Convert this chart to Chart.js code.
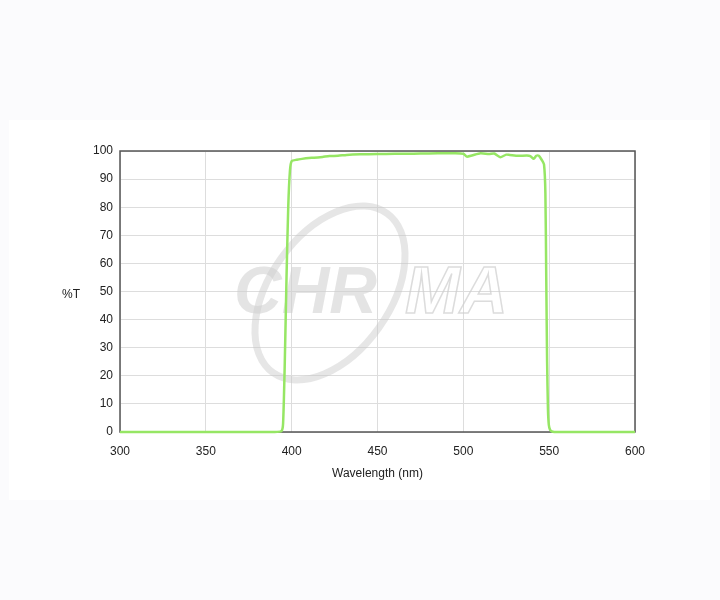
<!DOCTYPE html>
<html>
<head>
<meta charset="utf-8">
<script src="https://cdn.jsdelivr.net/npm/chart.js@4"></script>
<style>
  body { margin: 0; background: #fbfbfd; }
  canvas { display: block; }
</style>
</head>
<body>
<canvas id="chart" width="720" height="600"></canvas>
<script>
// wavelength (nm) and transmission (%T)
const wavelengths = [300, 350, 390, 394, 395, 396, 397, 398, 399, 400, 403, 406, 410, 413, 418, 422, 427, 432,
  440, 450, 460, 467, 475, 485, 495, 500, 502, 505, 510, 515, 518, 521.5, 525, 527, 532, 537, 539, 541,
  542.5, 544, 545.7, 547, 547.8, 548.3, 548.8, 549.3, 549.8, 550.5, 551.5, 553, 560, 600];
const transmission = [0, 0, 0, 0.3, 3, 25, 55, 80, 93, 96.4, 96.9, 97.2, 97.5, 97.6, 97.9, 98.2, 98.3, 98.6,
  98.8, 98.9, 99.0, 99.0, 99.1, 99.2, 99.2, 99.0, 98.0, 98.4, 99.2, 98.9, 99.1, 97.8, 98.7, 98.6, 98.3, 98.4,
  98.2, 97.2, 98.3, 98.3, 96.8, 95.2, 85, 55, 25, 8, 2.5, 0.8, 0.2, 0, 0, 0];

const xTicks = [300, 350, 400, 450, 500, 550, 600];
const yTicks = [0, 10, 20, 30, 40, 50, 60, 70, 80, 90, 100];

const points = wavelengths.map((w, i) => ({ x: w, y: transmission[i] }));
const font = "'Liberation Sans', Arial, sans-serif";

// page panel, watermark, dark frame and the two axis titles
const decor = {
  id: 'decor',
  beforeDraw(chart) {
    const c = chart.ctx;
    c.save();
    c.fillStyle = '#fbfbfd';
    c.fillRect(0, 0, chart.width, chart.height);
    c.fillStyle = '#ffffff';
    c.fillRect(9, 120, 701, 380);
    c.restore();
  },
  beforeDatasetsDraw(chart) {
    const c = chart.ctx;
    const a = chart.chartArea;
    c.save();
    // watermark
    c.translate(330, 293);
    c.rotate(-0.95);
    c.beginPath();
    c.ellipse(0, 0, 98, 60, 0, 0, Math.PI * 2);
    c.strokeStyle = 'rgba(200,200,200,0.45)';
    c.lineWidth = 7;
    c.stroke();
    c.setTransform(1, 0, 0, 1, 0, 0);
    c.font = 'italic bold 66px ' + font;
    c.textBaseline = 'middle';
    c.fillStyle = 'rgba(205,205,205,0.55)';
    c.fillText('CHR', 234, 295);
    c.strokeStyle = 'rgba(205,205,205,0.7)';
    c.lineWidth = 1.5;
    c.strokeText('MA', 405, 295);
    // frame
    c.strokeStyle = '#555555';
    c.lineWidth = 1.5;
    c.strokeRect(a.left, a.top, a.right - a.left, a.bottom - a.top);
    // axis titles
    c.fillStyle = '#222222';
    c.font = '12px ' + font;
    c.textAlign = 'center';
    c.fillText('%T', 71, 295);
    c.fillText('Wavelength (nm)', (a.left + a.right) / 2, 474);
    c.restore();
  }
};

new Chart(document.getElementById('chart'), {
  type: 'line',
  data: {
    datasets: [{
      data: points,
      borderColor: 'rgb(150, 230, 100)',
      borderWidth: 2.5,
      pointRadius: 0,
      tension: 0.2,
      clip: false,
      fill: false
    }]
  },
  options: {
    responsive: false,
    animation: false,
    events: [],
    layout: { padding: { top: 151, right: 85, left: 0, bottom: 0 } },
    plugins: { legend: { display: false }, tooltip: { enabled: false } },
    scales: {
      x: {
        type: 'linear',
        min: 300,
        max: 600,
        afterBuildTicks: s => { s.ticks = xTicks.map(v => ({ value: v })); },
        afterFit: s => { s.height = 168; },
        grid: { color: '#dddddd', lineWidth: 1, drawTicks: false },
        border: { display: false },
        ticks: { padding: 12, color: '#222222', font: { family: font, size: 12 }, maxRotation: 0 }
      },
      y: {
        min: 0,
        max: 100,
        afterBuildTicks: s => { s.ticks = yTicks.map(v => ({ value: v })); },
        afterFit: s => { s.width = 120; },
        grid: { color: '#dddddd', lineWidth: 1, drawTicks: false },
        border: { display: false },
        ticks: { padding: 7, color: '#222222', font: { family: font, size: 12 } }
      }
    }
  },
  plugins: [decor]
});
</script>
</body>
</html>
